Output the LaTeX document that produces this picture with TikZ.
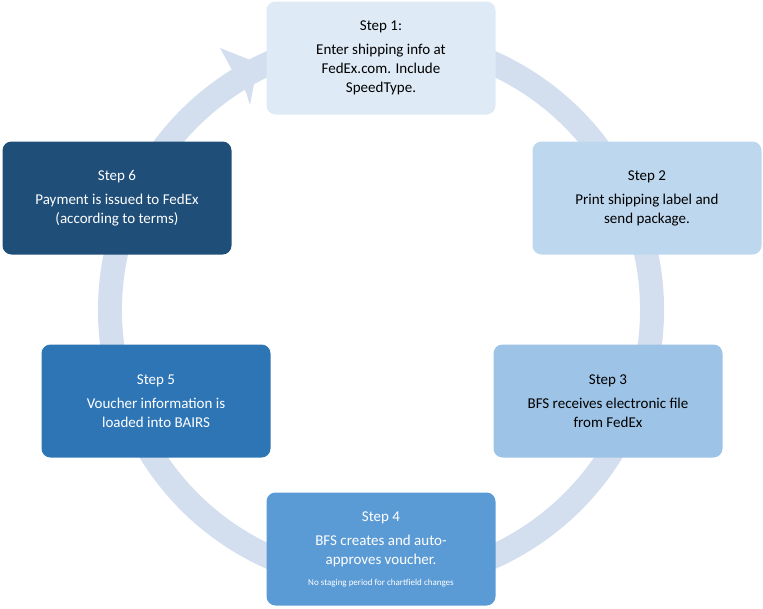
\documentclass[tikz,border=0pt]{standalone}
\usepackage{fontspec}
\setmainfont{Carlito}
\begin{document}
\begin{tikzpicture}[x=1pt,y=-1pt,
 box/.style={rounded corners=9pt,minimum width=229pt,minimum height=113pt,align=center,font=\fontsize{15}{19}\selectfont,inner sep=0pt},
 dk/.style={box,text=black},
 lt/.style={box,text=white}]
\definecolor{ring}{HTML}{D3DFEF}
\definecolor{c1}{HTML}{DEEAF6}
\definecolor{c2}{HTML}{BDD7EE}
\definecolor{c3}{HTML}{9DC3E6}
\definecolor{c4}{HTML}{5B9BD5}
\definecolor{c5}{HTML}{2E75B6}
\definecolor{c6}{HTML}{1F4E79}
\useasboundingbox (0,0) rectangle (763,608);
\draw[ring,line width=24pt] (381,310) ++(-480:271) arc[start angle=-480,end angle=-121,radius=271];
\fill[ring] (220,48) -- (258,63) -- (250,105) -- (246,92) -- (232,70) -- cycle;
\node[dk,fill=c1] (s1) at (381,58) {Step 1:\\[5pt]Enter shipping info at\\FedEx.com. Include\\SpeedType.};
\node[dk,fill=c2] (s2) at (647,198) {Step 2\\[5pt]Print shipping label and\\send package.};
\node[dk,fill=c3] (s3) at (608,401) {Step 3\\[5pt]BFS receives electronic file\\from FedEx};
\node[lt,fill=c4] (s4) at (381,549) {Step 4\\[5pt]BFS creates and auto-\\approves voucher.\\[2pt]{\fontsize{9}{11}\selectfont No staging period for chartfield changes}};
\node[lt,fill=c5] (s5) at (156,401) {Step 5\\[5pt]Voucher information is\\loaded into BAIRS};
\node[lt,fill=c6] (s6) at (117,198) {Step 6\\[5pt]Payment is issued to FedEx\\(according to terms)};
\end{tikzpicture}
\end{document}
